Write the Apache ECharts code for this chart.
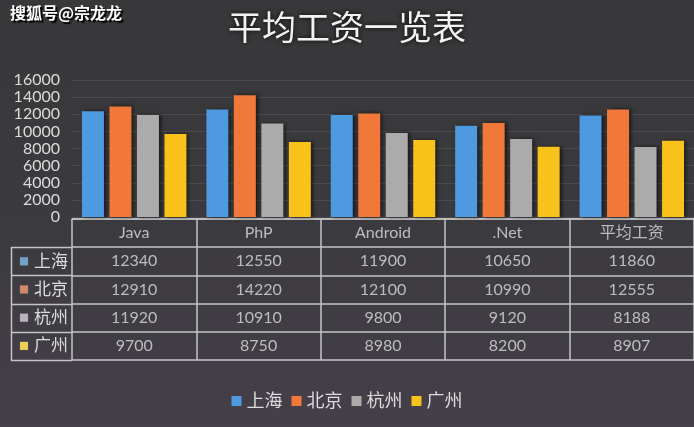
<!DOCTYPE html>
<html><head><meta charset="utf-8">
<script src="https://cdn.jsdelivr.net/npm/echarts@6/dist/echarts.min.js"></script>
<style>html,body{margin:0;padding:0;background:#3a3a3c;}#c{width:694px;height:427px;}</style>
</head><body><div id="c"></div>
<script>
const categories = ['Java', 'PhP', 'Android', '.Net', '平均工资'];
const cities = ['上海', '北京', '杭州', '广州'];
const shanghai = [12340, 12550, 11900, 10650, 11860];
const beijing = [12910, 14220, 12100, 10990, 12555];
const hangzhou = [11920, 10910, 9800, 9120, 8188];
const guangzhou = [9700, 8750, 8980, 8200, 8907];
const seriesValues = [shanghai, beijing, hangzhou, guangzhou];
const yMin = 0, yMax = 16000, yStep = 2000;

const colors = ['#4d9ae0', '#f0793a', '#ababab', '#f8c21a'];
const tableColors = ['#6fa3c8', '#d0876a', '#b9b3bd', '#f0cc55'];
const FONT = 'Lato, "Noto Sans CJK SC", sans-serif';
const TXT = '#dcdcdc';
const LINE = '#c4c4c4';

const chart = echarts.init(document.getElementById('c'));

const rowNames = [''].concat(cities);
const headerCells = categories.map((c, i) => ({value: [i, 0], label: {formatter: c}}));
const valueCells = [];
seriesValues.forEach((arr, r) => arr.forEach((v, i) => valueCells.push({value: [i, r + 1], label: {formatter: String(v)}})));

const rich = {};
tableColors.forEach((c, i) => { rich['s' + i] = {width: 8, height: 8, backgroundColor: c, borderColor: '#555', borderWidth: 0.5}; });
rich.t = {fontSize: 17, color: TXT, fontFamily: FONT, padding: [0, 0, 0, 6]};

const gridLeft = 72, tableTop = 219, tableH = 141, tableLeft = 11;
const rowH = tableH / rowNames.length;
const leftLines = [];
for (let r = 1; r <= rowNames.length; r++) {
  const y = Math.round(tableTop + r * rowH) + 0.5;
  leftLines.push({type: 'line', silent: true, shape: {x1: tableLeft, y1: y, x2: gridLeft, y2: y}, style: {stroke: LINE, lineWidth: 1.5}});
}
leftLines.push({type: 'line', silent: true, shape: {x1: tableLeft + 0.5, y1: Math.round(tableTop + rowH), x2: tableLeft + 0.5, y2: Math.round(tableTop + tableH) + 1}, style: {stroke: LINE, lineWidth: 1.5}});

chart.setOption({
  backgroundColor: {
    type: 'linear', x: 0, y: 0, x2: 0, y2: 1,
    colorStops: [{offset: 0, color: '#38383a'}, {offset: 0.5, color: '#3b3a3e'}, {offset: 1, color: '#453f4a'}]
  },
  animation: false,
  title: [
    {text: '平均工资一览表', left: 'center', top: 10, padding: 0,
     textStyle: {color: '#f2f2f2', fontSize: 34, fontWeight: 'normal', fontFamily: '"Noto Sans CJK SC", sans-serif',
       textShadowColor: 'rgba(0,0,0,0.9)', textShadowBlur: 5}},
    {text: '搜狐号@宗龙龙', left: 10, top: 5, padding: 0,
     textStyle: {color: '#ffffff', fontSize: 16, fontWeight: 'bold', fontFamily: '"Noto Sans CJK SC", sans-serif',
       textShadowColor: '#000', textShadowBlur: 1, textShadowOffsetX: 2, textShadowOffsetY: 2}}
  ],
  legend: {
    data: cities, top: 392, left: 'center', padding: 0,
    itemWidth: 10, itemHeight: 10, itemGap: 9, icon: 'rect',
    textStyle: {color: TXT, fontSize: 18, fontFamily: FONT}
  },
  grid: [
    {left: gridLeft, top: 80, width: 632, height: 137, containLabel: false},
    {left: gridLeft, top: tableTop, width: 632, height: tableH, containLabel: false}
  ],
  xAxis: [
    {type: 'category', gridIndex: 0, data: categories, axisLine: {show: false}, axisTick: {show: false}, axisLabel: {show: false}},
    {type: 'category', gridIndex: 1, data: categories, position: 'top',
     axisLine: {show: true, lineStyle: {color: LINE, width: 1.5}}, axisTick: {show: false}, axisLabel: {show: false},
     splitLine: {show: true, interval: 0, lineStyle: {color: LINE, width: 1.5}}}
  ],
  yAxis: [
    {type: 'value', gridIndex: 0, min: yMin, max: yMax, interval: yStep,
     axisLine: {show: false}, axisTick: {show: false},
     axisLabel: {color: TXT, fontSize: 16, fontFamily: FONT, margin: 12, formatter: v => String(v)},
     splitLine: {show: true, lineStyle: {color: 'rgba(255,255,255,0.09)', width: 1}}},
    {type: 'category', gridIndex: 1, data: rowNames, inverse: true,
     axisLine: {show: false}, axisTick: {show: false},
     axisLabel: {margin: 4, formatter: (v, i) => v ? '{s' + (i - 1) + '|}{t|' + v + '}' : '', rich: rich},
     splitLine: {show: true, interval: 0, lineStyle: {color: LINE, width: 1.5}}}
  ],
  series: cities.map((name, k) => ({
    name: name, type: 'bar', xAxisIndex: 0, yAxisIndex: 0, data: seriesValues[k],
    barWidth: 22, barGap: '25%',
    itemStyle: {color: colors[k], shadowColor: 'rgba(0,0,0,0.6)', shadowBlur: 4, shadowOffsetX: 2}
  })).concat([
    {type: 'scatter', xAxisIndex: 1, yAxisIndex: 1, symbolSize: 0, silent: true,
     data: headerCells.concat(valueCells),
     label: {show: true, position: 'inside', color: TXT, fontSize: 16, fontFamily: FONT}}
  ]),
  graphic: leftLines
});
</script></body></html>
